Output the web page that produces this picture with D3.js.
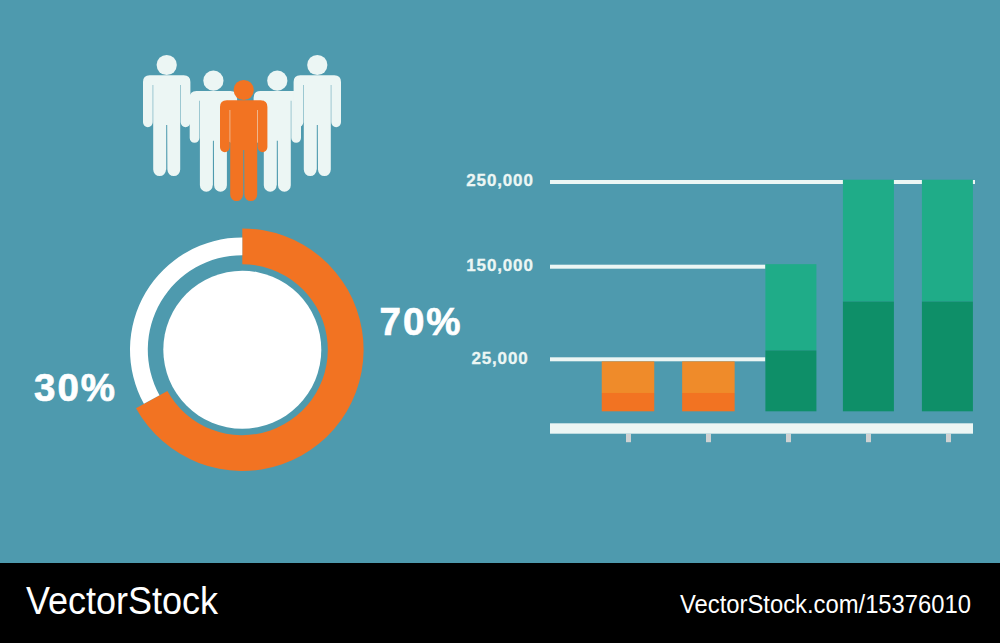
<!DOCTYPE html>
<html>
<head>
<meta charset="utf-8">
<script src="https://cdn.jsdelivr.net/npm/d3@7"></script>
<style>
html,body{margin:0;padding:0;background:#4e9aae;overflow:hidden}
svg{display:block}
text{font-family:"Liberation Sans",Arial,sans-serif}
</style>
</head>
<body>
<svg id="c" width="1000" height="643"></svg>
<script>
// ---- data ----
const categories = ["A", "B", "C", "D", "E"];
const lowerValues = [8800, 8800, 37000, 103000, 103000];
const totalValues = [24000, 24000, 153000, 252700, 252700];
const gridValues = [25000, 150000, 250000];
const donutSlices = ["major", "minor"];
const donutValues = [67, 33];
const donutLabels = ["70%", "30%"];
const peopleRows = ["back", "back", "middle", "middle", "front"];
const peopleSlots = [0, 4, 1, 3, 2];
const brandLeft = "VectorStock";
const brandRight = "VectorStock.com/15376010";

// ---- styles ----
const BG = "#4e9aae", ORANGE = "#f27322", LIGHT = "#ecf6f4", WHITE = "#ffffff";
const BAR_LOW = ["#f27322", "#f27322", "#0e8f68", "#0e8f68", "#0e8f68"];
const BAR_TOP = ["#ef8b2a", "#ef8b2a", "#1fac88", "#1fac88", "#1fac88"];
const BAR_W = [52.5, 52.5, 51, 51, 51];
const BAR_NUDGE = [0, 0.4, 2.9, 0.4, -0.6];

const svg = d3.select("#c");
svg.append("rect").attr("width", 1000).attr("height", 643).attr("fill", BG);
svg.append("rect").attr("y", 563).attr("width", 1000).attr("height", 80).attr("fill", "#000");

// ---- people ----
function figurePath() {
  const p = d3.path();
  p.moveTo(-17, 10.3);
  p.lineTo(17, 10.3);
  p.quadraticCurveTo(23.7, 10.3, 23.7, 17);
  p.lineTo(23.7, 57.3);
  p.arc(18.85, 57.3, 4.85, 0, Math.PI);
  p.lineTo(14, 20);
  p.lineTo(13.5, 20);
  p.lineTo(13.5, 104.6);
  p.arc(7.1, 104.6, 6.4, 0, Math.PI);
  p.lineTo(0.5, 60);
  p.lineTo(-0.5, 60);
  p.lineTo(-0.5, 104.6);
  p.arc(-7.1, 104.6, 6.4, 0, Math.PI);
  p.lineTo(-13.5, 20);
  p.lineTo(-14, 20);
  p.lineTo(-14, 57.3);
  p.arc(-18.85, 57.3, 4.85, 0, Math.PI);
  p.lineTo(-23.7, 17);
  p.quadraticCurveTo(-23.7, 10.3, -17, 10.3);
  p.closePath();
  return p.toString();
}
const personX = d3.scaleLinear().domain([0, 1, 2, 3, 4]).range([166.7, 213.4, 243.7, 277.3, 317.3]);
const personY = d3.scaleOrdinal().domain(["back", "middle", "front"]).range([65, 80.7, 90]);
const drawOrder = [2, 3, 0, 1, 4];
const people = svg.append("g").selectAll("g").data(drawOrder).join("g")
  .attr("transform", i => `translate(${personX(peopleSlots[i])},${personY(peopleRows[i])})`)
  .attr("fill", i => peopleRows[i] === "front" ? ORANGE : LIGHT);
people.append("circle").attr("r", 10.1);
people.append("path").attr("d", figurePath());

// ---- donut ----
const pie = d3.pie().sort(null).value(d => d)(donutValues);
const radii = [[85.5, 121.3], [94.5, 112.3]];
const donut = svg.append("g").attr("transform", "translate(242.3,349.7)");
donut.selectAll("path").data(pie).join("path")
  .attr("d", (d, i) => d3.arc().innerRadius(radii[i][0]).outerRadius(radii[i][1])(d))
  .attr("fill", (d, i) => i === 0 ? ORANGE : WHITE);
donut.append("circle").attr("r", 79).attr("fill", WHITE);
const labelPos = [[379.5, 335], [34, 400.5]];
svg.selectAll("text.pct").data(donutLabels).join("text").attr("class", "pct")
  .attr("x", (d, i) => labelPos[i][0]).attr("y", (d, i) => labelPos[i][1])
  .attr("fill", WHITE).attr("stroke", WHITE).attr("stroke-width", 0.7)
  .attr("font-weight", 700).attr("font-size", 38.5)
  .attr("textLength", 81).attr("lengthAdjust", "spacing")
  .text(d => d);

// ---- bars ----
const y = d3.scaleLinear().domain([0, 25000, 150000, 250000]).range([411.3, 359.3, 266.7, 182]);
const x = d3.scalePoint().domain(categories).range([628, 948]);
const barLeft = (c, i) => x(c) + BAR_NUDGE[i] - BAR_W[i] / 2;

const grid = svg.append("g");
grid.selectAll("rect").data(gridValues).join("rect")
  .attr("x", 550)
  .attr("y", d => y(d) - 2)
  .attr("height", 4)
  .attr("width", d => (d === d3.max(gridValues) ? 975 : barLeft(categories[2], 2)) - 550)
  .attr("fill", LIGHT);

svg.append("g").selectAll("text").data(gridValues).join("text")
  .attr("x", 500).attr("y", d => y(d) + 4.3)
  .attr("text-anchor", "middle").attr("fill", LIGHT)
  .attr("stroke", LIGHT).attr("stroke-width", 0.3)
  .attr("font-weight", 700).attr("font-size", 17).attr("letter-spacing", 0.85)
  .text(d => d3.format(",")(d));

const bars = svg.append("g").selectAll("g").data(categories).join("g");
bars.append("rect")
  .attr("x", barLeft).attr("width", (c, i) => BAR_W[i])
  .attr("y", (c, i) => y(totalValues[i]))
  .attr("height", (c, i) => y(lowerValues[i]) - y(totalValues[i]))
  .attr("fill", (c, i) => BAR_TOP[i]);
bars.append("rect")
  .attr("x", barLeft).attr("width", (c, i) => BAR_W[i])
  .attr("y", (c, i) => y(lowerValues[i]))
  .attr("height", (c, i) => y(0) - y(lowerValues[i]))
  .attr("fill", (c, i) => BAR_LOW[i]);

// ---- x axis ----
const axis = svg.append("g").attr("transform", "translate(0,433.7)")
  .call(d3.axisBottom(x).tickSize(8.5).tickFormat(""));
axis.select(".domain").remove();
axis.selectAll(".tick line").attr("stroke", "#cfd2d2").attr("stroke-width", 5);
svg.append("rect").attr("x", 550).attr("y", 423.3).attr("width", 423).attr("height", 10.4).attr("fill", LIGHT);

// ---- footer ----
svg.append("text").attr("x", 26).attr("y", 614).attr("fill", WHITE)
  .attr("font-size", 38).attr("textLength", 192).attr("lengthAdjust", "spacingAndGlyphs")
  .text(brandLeft);
svg.append("text").attr("x", 680).attr("y", 613).attr("fill", WHITE)
  .attr("font-size", 25).attr("textLength", 291).attr("lengthAdjust", "spacingAndGlyphs")
  .text(brandRight);
</script>
</body>
</html>
